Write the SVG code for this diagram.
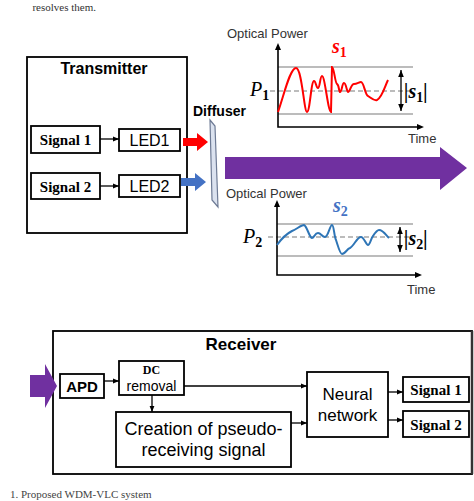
<svg xmlns="http://www.w3.org/2000/svg" width="474" height="501" viewBox="0 0 474 501">
<defs>
<style>
.box{fill:#fff;stroke:#000;stroke-width:1.8}
.frame{fill:none;stroke:#000;stroke-width:1.8}
.ln{fill:none;stroke:#000;stroke-width:1.3}
.ax{fill:none;stroke:#000;stroke-width:1.6}
.gl{stroke:#a6a6a6;stroke-width:1.6}
.dl{stroke:#a6a6a6;stroke-width:1.5;stroke-dasharray:5 3}
.sans{font-family:"Liberation Sans",Arial,sans-serif}
.serif{font-family:"Liberation Serif","Times New Roman",serif}
.bs{font-family:"Liberation Serif","Times New Roman",serif;font-weight:bold;font-size:15px}
.lab{font-family:"Liberation Sans",Arial,sans-serif;font-size:13px;fill:#333}
.math{font-family:"Liberation Serif","Times New Roman",serif;font-style:italic;font-size:20px}
.sub{font-style:normal;font-weight:bold;font-size:14px}
</style>
<marker id="ah" viewBox="0 0 10 10" refX="10" refY="5" markerWidth="6" markerHeight="6" orient="auto" markerUnits="userSpaceOnUse"><path d="M0,1 L10,5 L0,9 Z" fill="#000"/></marker>
<marker id="ah2" viewBox="0 0 10 10" refX="10" refY="5" markerWidth="7" markerHeight="7" orient="auto-start-reverse" markerUnits="userSpaceOnUse"><path d="M0,1 L10,5 L0,9 Z" fill="#000"/></marker>
</defs>
<rect width="474" height="501" fill="#fff"/>
<text class="serif" x="96" y="11" text-anchor="end" font-size="11" fill="#333">resolves them.</text>
<text class="serif" x="10" y="498" font-size="11" fill="#444">1. Proposed WDM-VLC system</text>

<g id="transmitter">
<rect class="frame" x="27" y="57" width="160" height="176"/>
<text class="sans" x="104" y="74" font-size="16" font-weight="bold" text-anchor="middle">Transmitter</text>
</g>
<g id="signal1-tx"><rect class="box" x="31" y="126" width="69" height="27"/><text class="bs" x="65.5" y="145" text-anchor="middle">Signal 1</text></g>
<g id="signal2-tx"><rect class="box" x="31" y="173" width="69" height="26"/><text class="bs" x="65.5" y="191.5" text-anchor="middle">Signal 2</text></g>
<g id="led1"><rect class="box" x="119" y="129" width="61" height="22"/><text class="sans" x="149.5" y="146" font-size="16" text-anchor="middle">LED1</text></g>
<g id="led2"><rect class="box" x="119" y="175" width="61" height="22"/><text class="sans" x="149.5" y="192" font-size="16" text-anchor="middle">LED2</text></g>

<g id="diffuser">
<polygon points="210,120 215,126 218,207 212,200" fill="#dbe2ef" stroke="#6d7a94" stroke-width="1.2"/>
<text class="sans" x="193" y="116" font-size="14" font-weight="bold">Diffuser</text>
</g>

<g id="chart1">
<text class="lab" x="227" y="38">Optical Power</text>
<line class="gl" x1="278" y1="67" x2="413" y2="67"/>
<line class="gl" x1="278" y1="114" x2="413" y2="114"/>
<line class="dl" x1="270" y1="91" x2="413" y2="91"/>
<polyline class="ax" points="278,46 278,127 421,127"/>
<path d="M278,43 L275,50 L281,50 Z M424,127 L417,124 L417,130 Z" fill="#000"/>
<path d="M278,112 C284,95 290,68 296,68 C302,68 304,112 307,112 C310,112 311,81 314,81 C316,81 316,88 318,88 C320,88 320,76 322,76 C325,76 328,112 331,112 L332,67 C334,67 335,83 337,84 C339,85 339,92 340,92 C342,92 342,83 344,83 C346,83 347,92 348,92 C350,92 351,84 354,84 C357,84 359,82 361,82 C364,82 365,95 368,96 C371,98 374,101 377,100 C382,98 385,86 388,80" fill="none" stroke="#ff0000" stroke-width="2"/>
<text class="math" x="332" y="53" fill="#ff0000" font-weight="bold">s<tspan class="sub" dy="4">1</tspan></text>
<text class="math" x="250" y="96">P<tspan class="sub" dy="4">1</tspan></text>
<line class="ln" x1="401" y1="70" x2="401" y2="111" marker-start="url(#ah2)" marker-end="url(#ah2)" stroke-width="1.5"/>
<text class="math" x="404" y="98" font-weight="bold">|s<tspan class="sub" dy="4">1</tspan><tspan dy="-4">|</tspan></text>
<text class="lab" x="408" y="143">Time</text>
</g>

<g id="chart2">
<text class="lab" x="226" y="198">Optical Power</text>
<line class="gl" x1="277" y1="224" x2="413" y2="224"/>
<line class="gl" x1="277" y1="256" x2="413" y2="256"/>
<line class="dl" x1="268" y1="237" x2="413" y2="237"/>
<polyline class="ax" points="277,203 277,275 419,275"/>
<path d="M277,200 L274,207 L280,207 Z M422,275 L415,272 L415,278 Z" fill="#000"/>
<path d="M277,245 C282,238 288,233 292,231 C297,229 301,225 304,225 C307,226 309,237 312,238 C314,238 315,233 318,233 C321,233 322,237 325,237 C328,237 330,225 332,225 C334,225 334,236 336,240 C338,246 340,254 342,254 C345,254 347,249 350,248 C354,246 357,237 361,237 C364,237 366,245 368,245 C370,245 371,238 373,236 C375,233 377,230 379,230 C383,230 386,235 389,238" fill="none" stroke="#2e75b6" stroke-width="2"/>
<text class="math" x="333" y="212" fill="#4472c4" font-weight="bold">s<tspan class="sub" dy="4">2</tspan></text>
<text class="math" x="243" y="243">P<tspan class="sub" dy="4">2</tspan></text>
<line class="ln" x1="400" y1="227" x2="400" y2="252" marker-start="url(#ah2)" marker-end="url(#ah2)" stroke-width="1.5"/>
<text class="math" x="404" y="245" font-weight="bold">|s<tspan class="sub" dy="4">2</tspan><tspan dy="-4">|</tspan></text>
<text class="lab" x="407" y="294">Time</text>
</g>

<g id="receiver">
<rect class="frame" x="53" y="331" width="419" height="143"/>
<line x1="472" y1="331" x2="472" y2="474" stroke="#333" stroke-width="2.5"/>
<text class="sans" x="241" y="350" font-size="17" font-weight="bold" text-anchor="middle">Receiver</text>
</g>
<g id="apd"><rect class="box" x="60" y="374" width="44" height="24"/><text class="sans" x="82" y="392" font-size="15" font-weight="bold" text-anchor="middle">APD</text></g>
<g id="dc-removal"><rect class="box" x="119" y="361" width="65" height="34"/><text class="serif" x="151.5" y="374" font-size="12" font-weight="bold" text-anchor="middle">DC</text><text class="sans" x="151.5" y="391" font-size="14" text-anchor="middle">removal</text></g>
<g id="creation"><rect class="box" x="116" y="412" width="175" height="55"/><text class="sans" x="203.5" y="435" font-size="18" text-anchor="middle">Creation of pseudo-</text><text class="sans" x="203.5" y="456" font-size="18" text-anchor="middle">receiving signal</text></g>
<g id="neural-network"><rect class="box" x="307" y="372" width="81" height="65"/><text class="sans" x="347.5" y="400" font-size="17" text-anchor="middle">Neural</text><text class="sans" x="347.5" y="421" font-size="17" text-anchor="middle">network</text></g>
<g id="signal1-rx"><rect class="box" x="403" y="377" width="66" height="25"/><text class="bs" x="436" y="395" text-anchor="middle">Signal 1</text></g>
<g id="signal2-rx"><rect class="box" x="403" y="411" width="66" height="26"/><text class="bs" x="436" y="430" text-anchor="middle">Signal 2</text></g>

<g id="connectors">
<line class="ln" x1="100" y1="139" x2="119" y2="139" marker-end="url(#ah)"/>
<line class="ln" x1="100" y1="186" x2="119" y2="186" marker-end="url(#ah)"/>
<polygon points="183,138 197,138 197,133 208,142 197,151 197,146 183,146" fill="#ff0000"/>
<polygon points="181,178 195,178 195,173 206,182 195,191 195,186 181,186" fill="#4472c4"/>
<polygon points="225,157 440,157 440,147 467,168 440,190 440,179 225,179" fill="#7030a0"/>
<polygon points="30,375 45,375 45,364 57,386 45,408 45,397 30,397" fill="#7030a0"/>
<line class="ln" x1="104" y1="381" x2="119" y2="381" marker-end="url(#ah)"/>
<line class="ln" x1="152" y1="395" x2="152" y2="412" marker-end="url(#ah)"/>
<line class="ln" x1="184" y1="386" x2="307" y2="386" marker-end="url(#ah)"/>
<line class="ln" x1="291" y1="423" x2="307" y2="423" marker-end="url(#ah)"/>
<line class="ln" x1="388" y1="392" x2="403" y2="392" marker-end="url(#ah)"/>
<line class="ln" x1="388" y1="420" x2="403" y2="420" marker-end="url(#ah)"/>
</g>
</svg>
